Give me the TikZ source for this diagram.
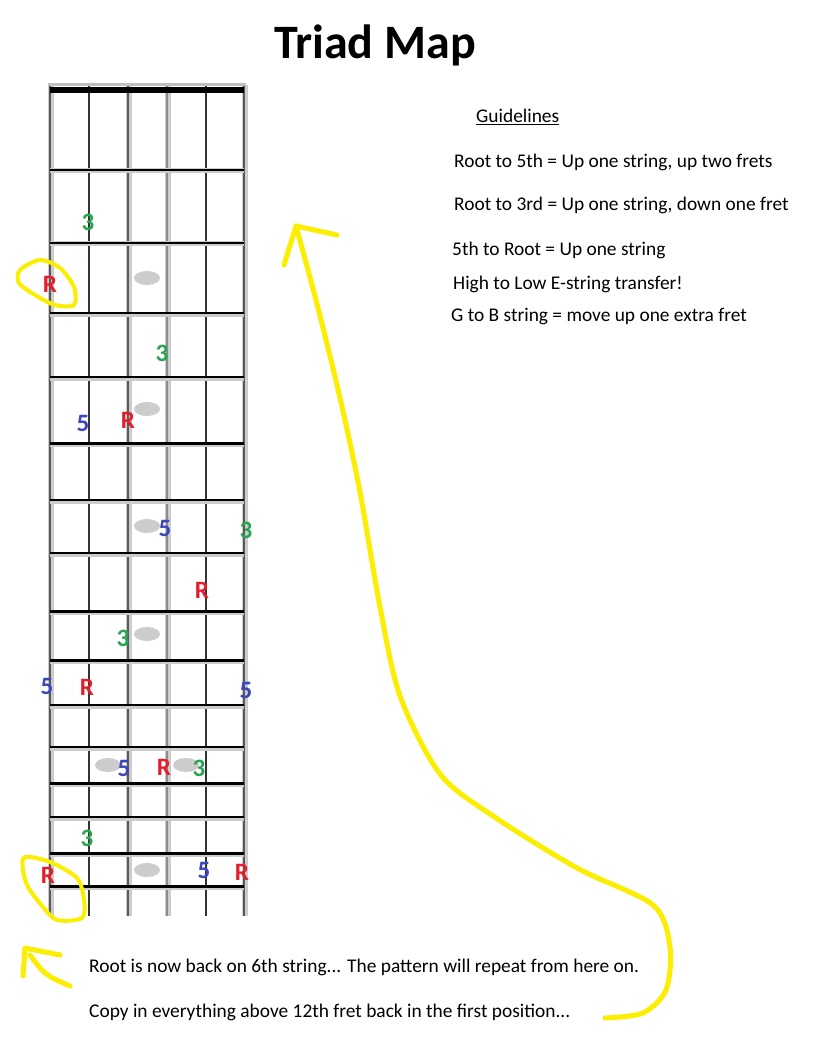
\documentclass[tikz,border=0pt]{standalone}
\usepackage{fontspec}
\setmainfont{Carlito}
\definecolor{rootred}{RGB}{226,30,45}
\definecolor{thirdgreen}{RGB}{40,165,80}
\definecolor{fifthblue}{RGB}{60,70,185}
\definecolor{marker}{RGB}{252,238,0}

\begin{document}
\begin{tikzpicture}[x=1pt,y=-1pt,
			every node/.style={inner sep=0pt},
			note/.style={font=\fontsize{25}{25}\selectfont\bfseries},
			rootnote/.style={note,text=rootred},
			thirdnote/.style={note,text=thirdgreen},
			fifthnote/.style={note,text=fifthblue},
			guide/.style={anchor=base west,font=\fontsize{19.4}{23}\selectfont},
			inlay/.style={fill=black!20,draw=none},
			crayon/.style={draw=marker,line width=5pt,line cap=round,line join=round}
			]
			\fill[white] (0,0) rectangle (816,1056);
			\useasboundingbox (0,0) rectangle (816,1056);
			\node[font=\fontsize{48}{48}\selectfont\bfseries] (title) at (375,45) {Triad Map};
			\foreach \y in {278,409,526,634,870}
				\fill[inlay] (147,\y) ellipse [x radius=13pt, y radius=7pt];
			\fill[inlay] (108,765) ellipse [x radius=13pt, y radius=7pt];
			\fill[inlay] (186,765) ellipse [x radius=13pt, y radius=7pt];
			\foreach \x/\c/\h in {50/black!65/black!20,89/black!80/white,128/black!65/black!20,167/black!45/black!20,206/black!80/white,244/black!65/black!20}{
				\draw[\h,line width=5.5pt] (\x+1,85) -- (\x+1,916);
				\draw[\c,line width=2.5pt] (\x,85) -- (\x,916);
			}
			\foreach \y/\w in {170/2.5,243/2.5,313/2.5,377/2.5,443/3,500/2.5,553/2.5,611/3,660/3,705/1.5,747/2.5,783/3,817/1.5,853/3,886/3}{
				\draw[black!20,line width=5pt] (50,\y+1) -- (244,\y+1);
				\draw[line width=\w pt] (50,\y) -- (244,\y);
			}
			\draw[black!25,line width=3pt] (48,85) -- (246,85);
			\draw[line width=6pt] (50,90) -- (244,90);
			\node[thirdnote] (t2) at (88,222) {3};
			\node[rootnote] (r3) at (50,284) {R};
			\node[thirdnote] (t4) at (162,353) {3};
			\node[fifthnote] (f5) at (83,423) {5};
			\node[rootnote] (r5) at (128,420) {R};
			\node[fifthnote] (f7) at (165,528) {5};
			\node[thirdnote] (t7) at (246,530) {3};
			\node[rootnote] (r8) at (202,590) {R};
			\node[thirdnote] (t9) at (123,638) {3};
			\node[fifthnote] (f10a) at (47,686) {5};
			\node[rootnote] (r10) at (87,687) {R};
			\node[fifthnote] (f10b) at (246,690) {5};
			\node[fifthnote] (f12) at (124,768) {5};
			\node[rootnote] (r12) at (164,767) {R};
			\node[thirdnote] (t12) at (199,768) {3};
			\node[thirdnote] (t14) at (87,838) {3};
			\node[rootnote] (r15a) at (48,875) {R};
			\node[fifthnote] (f15) at (204,870) {5};
			\node[rootnote] (r15b) at (242,872) {R};
			\node[guide] (head) at (476,123) {\underline{Guidelines}};
			\node[guide] (g1) at (454,168) {Root to 5th = Up one string, up two frets};
			\node[guide] (g2) at (454,211) {Root to 3rd = Up one string, down one fret};
			\node[guide] (g3) at (452,256) {5th to Root = Up one string};
			\node[guide] (g4) at (453,290) {High to Low E-string transfer!};
			\node[guide] (g5) at (451,321) {G to B string = move up one extra fret};
			\node[guide] (n1) at (89,972) {Root is now back on 6th string... The pattern will repeat from here on.};
			\node[guide] (n2) at (89,1017) {Copy in everything above 12th fret back in the first position...};
			\draw[crayon,line width=4pt] plot[smooth cycle] coordinates {(20,270) (40,260) (60,268) (74,287) (74,305) (55,305) (35,295) (19,283)};
			\draw[crayon,line width=4pt] plot[smooth cycle] coordinates {(25,857) (50,862) (77,878) (84,900) (82,918) (57,920) (43,907) (28,887) (23,870)};
			\coordinate (tail) at (605,1018);
			\coordinate (tip) at (296,226);
			\draw[crayon] plot[smooth] coordinates {(605,1018) (643,1013) (666,990) (670,947) (653,905) (577,868) (493,816) (440,774) (400,696) (380,607) (360,492) (340,398) (317,304) (296,226)};
			\draw[crayon] (337,235) -- (tip) -- (284,265);
			\coordinate (back) at (25,948);
			\draw[crayon] (60,955) -- (back) -- (23,976);
			\draw[crayon] (30,955) .. controls (45,975) .. (70,986);
		\end{tikzpicture}
\end{document}
